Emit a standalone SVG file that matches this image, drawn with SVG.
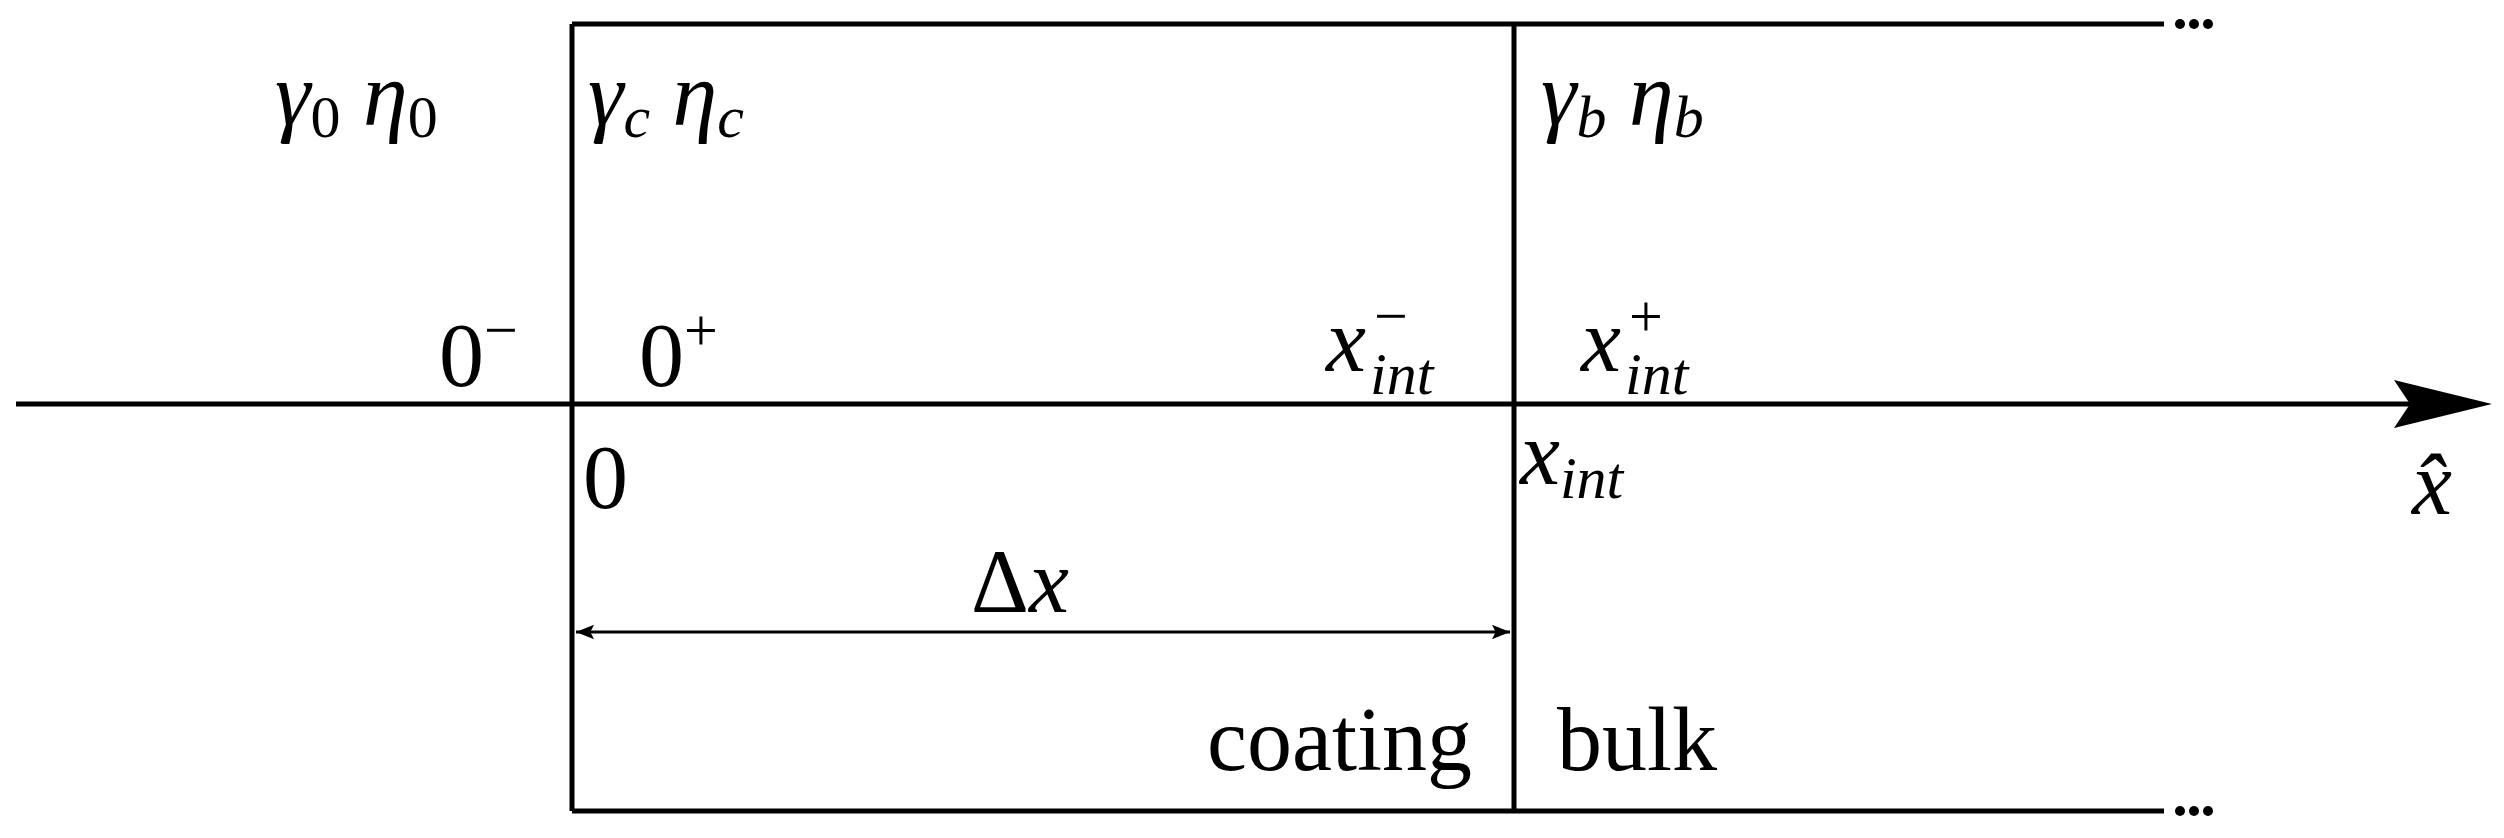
<svg xmlns="http://www.w3.org/2000/svg" width="2504" height="838" viewBox="0 0 2504 838">
<style>
.l{stroke:#000;stroke-width:5;fill:none}
text{font-family:"Liberation Serif",serif;font-size:90px;fill:#000}
.i{font-style:italic}
.s{font-size:60px}
</style>
<defs>
<marker id="a" viewBox="0 0 10 10" refX="10" refY="5" markerWidth="6" markerHeight="6" orient="auto-start-reverse" markerUnits="strokeWidth"><path d="M0,1 L10,5 L0,9 L2,5 Z" fill="#000"/></marker>
</defs>
<g id="connectors">
<path class="l" d="M572,24 H2164 M572,811 H2164 M572,24 V811 M1514,24 V811"/>
<path class="l" d="M16,404 H2420"/>
<path d="M2394,380 L2492,404 L2394,428 L2410,404 Z" fill="#000"/>
<path class="l" d="M576,632 H1510" marker-start="url(#a)" marker-end="url(#a)" style="stroke-width:3"/>
<g fill="#000"><circle cx="2180" cy="24" r="5"/><circle cx="2194" cy="24" r="5"/><circle cx="2208" cy="24" r="5"/><circle cx="2180" cy="811" r="5"/><circle cx="2194" cy="811" r="5"/><circle cx="2208" cy="811" r="5"/></g>
</g>
<g id="labels">
<text x="275" y="125" class="i">γ<tspan class="s" font-style="normal" dy="12">0</tspan><tspan dy="-12"> η</tspan><tspan class="s" font-style="normal" dy="12">0</tspan></text>
<text x="588" y="125" class="i">γ<tspan class="s" dy="12">c</tspan><tspan dy="-12"> η</tspan><tspan class="s" dy="12">c</tspan></text>
<text x="1541" y="125" class="i">γ<tspan class="s" dy="12">b</tspan><tspan dy="-12"> η</tspan><tspan class="s" dy="12">b</tspan></text>
<text x="439" y="386">0<tspan class="s" dy="-36">−</tspan></text>
<text x="639" y="386">0<tspan class="s" dy="-36">+</tspan></text>
<text x="1326" y="371" class="i">x</text>
<text x="1374" y="336" class="s">−</text>
<text x="1370" y="394" class="s i">int</text>
<text x="1581" y="371" class="i">x</text>
<text x="1629" y="336" class="s">+</text>
<text x="1625" y="394" class="s i">int</text>
<text x="1520" y="484" class="i">x<tspan class="s" dy="14">int</tspan></text>
<text x="583" y="508">0</text>
<text x="2412" y="514" class="i">x̂</text>
<text x="971" y="612">Δ<tspan class="i">x</tspan></text>
<text x="1472" y="770" text-anchor="end" font-size="92">coating</text>
<text x="1557" y="770" font-size="92">bulk</text>
</g>
</svg>
